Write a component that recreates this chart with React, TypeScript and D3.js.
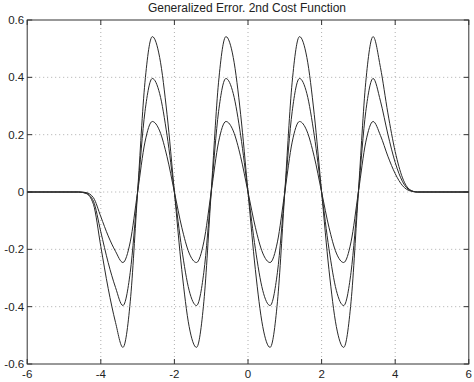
import React from "react";
import * as d3 from "d3";

const title = "Generalized Error. 2nd Cost Function";
const xTicks = [-6, -4, -2, 0, 2, 4, 6];
const yTicks = [-0.6, -0.4, -0.2, 0, 0.2, 0.4, 0.6];
const xGrid = [-4, -2, 0, 2, 4];
const yGrid = [-0.4, -0.2, 0, 0.2, 0.4];

const xs = [-6, -4.6, -4.4, -4.2, -4.0, -3.8, -3.6, -3.4, -3.2, -3.0, -2.8, -2.6, -2.4, -2.2, -2.0, -1.8, -1.6, -1.4, -1.2, -1.0, -0.8, -0.6, -0.4, -0.2, 0, 0.2, 0.4, 0.6, 0.8, 1.0, 1.2, 1.4, 1.6, 1.8, 2.0, 2.2, 2.4, 2.6, 2.8, 3.0, 3.2, 3.4, 3.6, 3.8, 4.0, 4.2, 4.4, 4.6, 6];

const seriesSmall = [0, 0, -0.002, -0.02, -0.086, -0.153, -0.207, -0.246, -0.174, 0, 0.174, 0.246, 0.213, 0.123, 0, -0.123, -0.213, -0.246, -0.174, 0, 0.174, 0.246, 0.213, 0.123, 0, -0.123, -0.213, -0.246, -0.174, 0, 0.174, 0.246, 0.213, 0.123, 0, -0.123, -0.213, -0.246, -0.174, 0, 0.174, 0.246, 0.197, 0.125, 0.064, 0.022, 0.004, 0, 0];
const seriesMid = [0, 0, -0.004, -0.032, -0.139, -0.246, -0.333, -0.396, -0.28, 0, 0.28, 0.396, 0.343, 0.198, 0, -0.198, -0.343, -0.396, -0.28, 0, 0.28, 0.396, 0.343, 0.198, 0, -0.198, -0.343, -0.396, -0.28, 0, 0.28, 0.396, 0.343, 0.198, 0, -0.198, -0.343, -0.396, -0.28, 0, 0.28, 0.396, 0.317, 0.202, 0.103, 0.036, 0.006, 0, 0];
const seriesLarge = [0, 0, -0.005, -0.043, -0.19, -0.336, -0.455, -0.542, -0.383, 0, 0.383, 0.542, 0.469, 0.271, 0, -0.271, -0.469, -0.542, -0.383, 0, 0.383, 0.542, 0.469, 0.271, 0, -0.271, -0.469, -0.542, -0.383, 0, 0.383, 0.542, 0.469, 0.271, 0, -0.271, -0.469, -0.542, -0.383, 0, 0.383, 0.542, 0.434, 0.276, 0.141, 0.049, 0.008, 0, 0];

const allSeries = [seriesSmall, seriesMid, seriesLarge];

export default function App() {
  const W = 474, H = 382;
  const left = 27.2, right = 468.8, top = 20, bottom = 364;
  const x = d3.scaleLinear().domain([-6, 6]).range([left, right]);
  const y = d3.scaleLinear().domain([-0.6, 0.6]).range([bottom, top]);
  const line = d3
    .line<number>()
    .x((_, i) => x(xs[i]))
    .y((d) => y(d))
    .curve(d3.curveMonotoneX);
  const font = "'Liberation Sans', Arial, Helvetica, sans-serif";
  const tl = 5;
  return (
    <svg width={W} height={H} style={{ position: "absolute", left: 0, top: 0, background: "#fff" }}>
      <rect x={0} y={0} width={W} height={H} fill="#fff" />
      <text x={247} y={11.5} textAnchor="middle" fontFamily={font} fontSize={12} fill="#222">
        {title}
      </text>
      {xGrid.map((v) => (
        <line key={"gx" + v} x1={x(v)} x2={x(v)} y1={top} y2={bottom} stroke="#999" strokeWidth={0.8} strokeDasharray="1,3" />
      ))}
      {yGrid.map((v) => (
        <line key={"gy" + v} x1={left} x2={right} y1={y(v)} y2={y(v)} stroke="#999" strokeWidth={0.8} strokeDasharray="1,3" />
      ))}
      {allSeries.map((s, i) => (
        <path key={"s" + i} d={line(s) || ""} fill="none" stroke="#2a2a2a" strokeWidth={1} />
      ))}
      <rect x={left} y={top} width={right - left} height={bottom - top} fill="none" stroke="#333" strokeWidth={1} />
      {xTicks.map((v) => (
        <g key={"xt" + v}>
          <line x1={x(v)} x2={x(v)} y1={bottom} y2={bottom - tl} stroke="#333" />
          <line x1={x(v)} x2={x(v)} y1={top} y2={top + tl} stroke="#333" />
          <text x={x(v)} y={bottom + 14} textAnchor="middle" fontFamily={font} fontSize={11.5} fill="#222">
            {String(v)}
          </text>
        </g>
      ))}
      {yTicks.map((v) => (
        <g key={"yt" + v}>
          <line x1={left} x2={left + tl} y1={y(v)} y2={y(v)} stroke="#333" />
          <line x1={right} x2={right - tl} y1={y(v)} y2={y(v)} stroke="#333" />
          <text x={left - 3} y={y(v) + 4} textAnchor="end" fontFamily={font} fontSize={11.5} fill="#222">
            {String(v)}
          </text>
        </g>
      ))}
    </svg>
  );
}
